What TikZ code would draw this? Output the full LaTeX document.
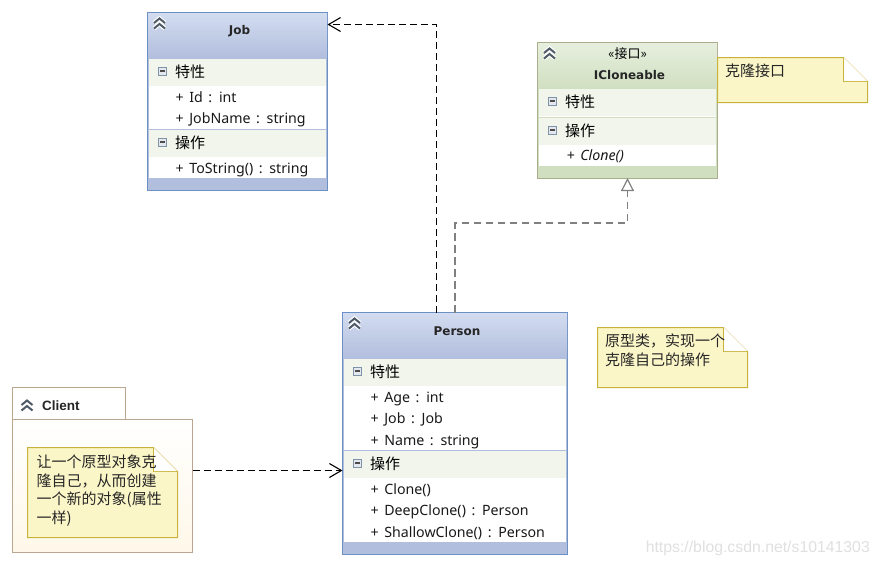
\documentclass[tikz,border=0pt]{standalone}
\usepackage{fontspec}
\usetikzlibrary{arrows.meta,positioning}
\setmainfont[WordSpace=1.5]{Noto Sans}
\newfontfamily\cjk{Noto Sans CJK SC}
\newfontfamily\verd{DejaVu Sans}
\newfontfamily\wmark{Liberation Sans}

\definecolor{jobline}{HTML}{6B90C4}
\definecolor{jobtop}{HTML}{D3DCF0}
\definecolor{jobbar}{HTML}{B1BEDD}
\definecolor{ifaceline}{HTML}{ABAE8C}
\definecolor{ifacetop}{HTML}{E6EFDE}
\definecolor{ifacebar}{HTML}{D1DFC1}
\definecolor{bandfill}{HTML}{F2F5EC}
\definecolor{noteline}{HTML}{C9B23C}
\definecolor{notefill}{HTML}{FBF6C8}
\definecolor{clientline}{HTML}{BBA78F}
\definecolor{clientbot}{HTML}{FFF8E9}
\definecolor{chevgray}{HTML}{4E5A66}
\definecolor{realgray}{HTML}{808080}
\definecolor{iconline}{HTML}{7F93A8}
\definecolor{iconfill}{HTML}{E4E8EE}

\tikzset{
  classbox/.style = {draw, inner sep=0pt, outer sep=0pt},
  headband/.style = {inner sep=0pt, outer sep=0pt, minimum height=45pt},
  jobhead/.style = {top color=jobtop, bottom color=jobbar},
  ifacehead/.style = {top color=ifacetop, bottom color=ifacebar},
  band/.style = {inner sep=0pt, outer sep=0pt, fill=bandfill, minimum height=27pt},
  items/.style = {inner sep=0pt, outer sep=0pt, fill=white},
  title/.style = {inner sep=0pt, font=\verd\bfseries\fontsize{12}{14}\selectfont, text=black!85},
  section/.style = {inner sep=0pt, anchor=west, font=\cjk\fontsize{15}{17}\selectfont},
  member/.style = {inner sep=0pt, anchor=base west, font=\fontsize{14.2}{16}\selectfont, text=black!90},
  notebox/.style = {inner sep=0pt, outer sep=0pt},
  notetext/.style = {inner sep=0pt, anchor=north west, align=left,
    font=\cjk\fontsize{15}{18.4}\selectfont, text=black!85},
  depend/.style = {draw=black, line width=1pt, dash pattern=on 7pt off 4pt,
    -{Straight Barb[length=12pt,width=14pt,line width=1.1pt]}},
  realize/.style = {draw=realgray, line width=1.2pt, dash pattern=on 7.5pt off 4.5pt,
    -{Triangle[open,length=13pt,width=13pt,line width=1.2pt,fill=white]}},
  minusicon/.pic = {
    \draw[draw=iconline, fill=iconfill, line width=1pt] (-4,-4) rectangle (4,4);
    \draw[draw=black!70, line width=1.2pt] (-2.4,0) -- (2.4,0);
  },
  chevrons/.pic = {
    \foreach \yy in {-5.5,0} {
      \draw[white, line width=4.2pt] (-5.5,\yy+4.5) -- (0,\yy) -- (5.5,\yy+4.5);
    }
    \foreach \yy in {-5.5,0} {
      \draw[chevgray, line width=2pt] (-5.5,\yy+4.5) -- (0,\yy) -- (5.5,\yy+4.5);
    }
  },
  plainchevrons/.pic = {
    \foreach \yy in {-5,0.5} {
      \draw[chevgray, line width=2pt] (-5.5,\yy+4.5) -- (0,\yy) -- (5.5,\yy+4.5);
    }
  },
}

\begin{document}
\begin{tikzpicture}[x=1pt, y=-1pt]

  \useasboundingbox[fill=white] (0,0) rectangle (879,565);

  % name, head style, inner width, attribute and operation list heights
  \newcommand{\compartments}[5]{
    \node[headband, #2, minimum width=#3pt+2pt, anchor=north] (#1head) at ([yshift=-0.5pt]#1.north) {};
    \node[band, minimum width=#3pt, below=1pt of #1head] (#1attr) {};
    \node[items, minimum width=#3pt, minimum height=#4pt, below=0pt of #1attr] (#1attrlist) {};
    \node[band, minimum width=#3pt, below=1pt of #1attrlist] (#1oper) {};
    \node[items, minimum width=#3pt, minimum height=#5pt, below=0pt of #1oper] (#1operlist) {};
  }
  % folded note, text goes in by hand
  \newcommand{\foldnote}[1]{
    \draw[draw=noteline, fill=notefill, line width=1pt] (#1.north west) -- ([xshift=-24pt]#1.north east)
      -- ([yshift=-24pt]#1.north east) -- (#1.south east) -- (#1.south west) -- cycle;
    \draw[draw=noteline, fill=white, line width=1pt] ([xshift=-24pt]#1.north east)
      -- ([xshift=-24pt,yshift=-24pt]#1.north east) -- ([yshift=-24pt]#1.north east);
    \fill[white] ([xshift=-23.5pt,yshift=-0.8pt]#1.north east) -- ([xshift=-23.5pt,yshift=-23.5pt]#1.north east)
      -- ([xshift=-0.8pt,yshift=-23.5pt]#1.north east) -- cycle;
  }

  % Job
  \node[classbox, draw=jobline, fill=jobbar, minimum width=180pt, minimum height=178pt] (job) at (237.5,101.5) {};
  \compartments{job}{jobhead}{177}{43}{21}
  \pic at (159.5,24) {chevrons};
  \node[title] (jobname) at (239.5,31) {Job};
  \pic at (162.5,71) {minusicon};
  \node[section] (jobattrlabel) at (175,72) {特性};
  \node[member] (jobid) at (175.5,102) {+ Id : int};
  \node[member] (jobjobname) at (175.5,123) {+ JobName : string};
  \pic at (162.5,142) {minusicon};
  \node[section] (joboperlabel) at (175,143) {操作};
  \node[member] (jobtostring) at (175.5,173) {+ ToString() : string};

  % ICloneable
  \node[classbox, draw=ifaceline, fill=ifacebar, minimum width=180pt, minimum height=135.5pt] (icloneable) at (627.5,110.25) {};
  \compartments{icloneable}{ifacehead}{177}{1}{21}
  \pic at (549.5,54) {chevrons};
  \node[inner sep=0pt, font=\cjk\fontsize{13}{15}\selectfont] (ifacetag) at (627.5,54) {«接口»};
  \node[title] (ifacename) at (629.5,75) {ICloneable};
  \pic at (552.5,101) {minusicon};
  \node[section] (ifaceattrlabel) at (565,102) {特性};
  \pic at (552.5,130) {minusicon};
  \node[section] (ifaceoperlabel) at (565,131) {操作};
  \node[member, font=\itshape\fontsize{14.2}{16}\selectfont] (ifaceclone) at (566.5,160) {+ Clone()};

  % Person
  \node[classbox, draw=jobline, fill=jobbar, minimum width=225pt, minimum height=241.5pt] (person) at (455,433.25) {};
  \compartments{person}{jobhead}{222}{64}{64}
  \pic at (354.5,324) {chevrons};
  \node[title] (personname) at (457,331) {Person};
  \pic at (357.5,371) {minusicon};
  \node[section] (personattrlabel) at (370,372) {特性};
  \node[member] (personage) at (370.5,402) {+ Age : int};
  \node[member] (personjob) at (370.5,423) {+ Job : Job};
  \node[member] (personnamefield) at (370.5,445) {+ Name : string};
  \pic at (357.5,463) {minusicon};
  \node[section] (personoperlabel) at (370,464) {操作};
  \node[member] (personclone) at (370.5,494) {+ Clone()};
  \node[member] (persondeep) at (370.5,515) {+ DeepClone() : Person};
  \node[member] (personshallow) at (370.5,537) {+ ShallowClone() : Person};

  % Client
  \node[classbox, draw=clientline, fill=white, anchor=north west, minimum width=112.5pt, minimum height=32pt] (clienttab) at (12.5,387.5) {};
  \node[classbox, draw=clientline, top color=white, bottom color=clientbot, anchor=north west, minimum width=180pt, minimum height=133pt] (client) at (12.5,419.5) {};
  \pic at (27,405.5) {plainchevrons};
  \node[inner sep=0pt, anchor=west, font=\wmark\bfseries\fontsize{13.5}{15}\selectfont, text=black!85] (clientname) at (42,405.5) {Client};

  % notes
  \node[notebox, anchor=north west, minimum width=150pt, minimum height=90pt] (clientnote) at (27.5,447.5) {};
  \foldnote{clientnote}
  \node[notetext] (clientnotetext) at (36.5,455) {让一个原型对象克\\隆自己，从而创建\\一个新的对象(属性\\一样)};
  \node[notebox, anchor=north west, minimum width=150pt, minimum height=45pt] (ifacenote) at (717.5,57.5) {};
  \foldnote{ifacenote}
  \node[notetext] (ifacenotetext) at (725,63.5) {克隆接口};
  \node[notebox, anchor=north west, minimum width=150pt, minimum height=60pt] (personnote) at (597.5,327.5) {};
  \foldnote{personnote}
  \node[notetext] (personnotetext) at (605,334) {原型类，实现一个\\克隆自己的操作};

  % connectors
  \coordinate (realizebend) at (541,223);
  \draw[depend] ([xshift=-18.5pt]person.north) |- ([yshift=77pt]job.east);
  \draw[realize] (person.north) |- (realizebend) -| (icloneable.south);
  \draw[depend] ([yshift=15.5pt]client.east) -- ([yshift=15.5pt]client.east -| person.west);

  \node[inner sep=0pt, anchor=base east, font=\wmark\fontsize{15.8}{18}\selectfont, text=black!12] (watermark) at (870,552.5) {https://blog.csdn.net/s10141303};

\end{tikzpicture}
\end{document}
